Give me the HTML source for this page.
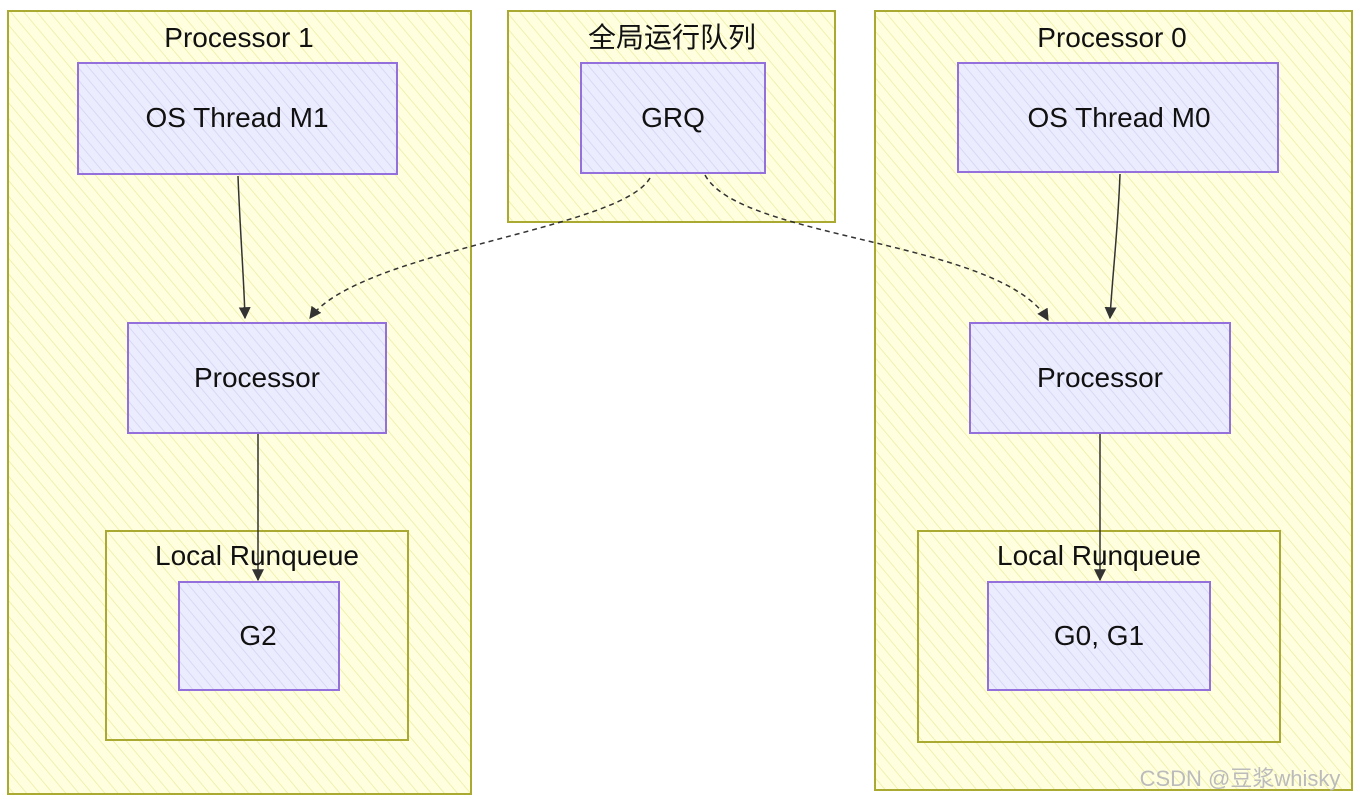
<!DOCTYPE html>
<html><head><meta charset="utf-8"><style>
html,body{margin:0;padding:0;background:#fff;}
svg{display:block;}
text{font-family:"Liberation Sans","Noto Sans CJK SC",sans-serif;font-size:28px;fill:#111;}
</style></head><body>
<svg width="1359" height="802" viewBox="0 0 1359 802" xmlns="http://www.w3.org/2000/svg">
<defs>
<pattern id="hy" width="10" height="10" patternUnits="userSpaceOnUse" patternTransform="rotate(-40)">
<rect width="10" height="10" fill="#ffffe0"/><line x1="0" y1="0" x2="0" y2="10" stroke="#f0f0b0" stroke-width="2"/></pattern>
<pattern id="hp" width="8" height="8" patternUnits="userSpaceOnUse" patternTransform="rotate(-40)">
<rect width="8" height="8" fill="#ececff"/><line x1="0" y1="0" x2="0" y2="8" stroke="#d8d8f4" stroke-width="2"/></pattern>
<marker id="a" viewBox="0 0 10 10" refX="9" refY="5" markerWidth="8" markerHeight="8" orient="auto"><path d="M0,0L10,5L0,10z" fill="#333"/></marker>
</defs>
<g stroke="#aaaa33" stroke-width="2" fill="url(#hy)">
<rect x="8" y="11" width="463" height="783"/>
<rect x="508" y="11" width="327" height="211"/>
<rect x="875" y="11" width="477" height="779"/>
<rect x="106" y="531" width="302" height="209"/>
<rect x="918" y="531" width="362" height="211"/>
</g>
<g stroke="#9370db" stroke-width="2" fill="url(#hp)">
<rect x="78" y="63" width="319" height="111"/>
<rect x="581" y="63" width="184" height="110"/>
<rect x="958" y="63" width="320" height="109"/>
<rect x="128" y="323" width="258" height="110"/>
<rect x="970" y="323" width="260" height="110"/>
<rect x="179" y="582" width="160" height="108"/>
<rect x="988" y="582" width="222" height="108"/>
</g>
<g fill="none" stroke="#333" stroke-width="1.5">
<path d="M238,176 C240,230 244,280 245,318" marker-end="url(#a)"/>
<path d="M258,434 C258,490 258,540 258,580" marker-end="url(#a)"/>
<path d="M1120,174 C1118,230 1112,280 1110,318" marker-end="url(#a)"/>
<path d="M1100,434 C1100,490 1100,540 1100,580" marker-end="url(#a)"/>
<path d="M650,178 C620,230 360,250 310,318" stroke-dasharray="5,4" marker-end="url(#a)"/>
<path d="M705,175 C740,240 1000,240 1048,320" stroke-dasharray="5,4" marker-end="url(#a)"/>
</g>
<g text-anchor="middle">
<text x="239" y="47">Processor 1</text>
<text x="672" y="47">全局运行队列</text>
<text x="1112" y="47">Processor 0</text>
<text x="237" y="127">OS Thread M1</text>
<text x="673" y="127">GRQ</text>
<text x="1119" y="127">OS Thread M0</text>
<text x="257" y="387">Processor</text>
<text x="1100" y="387">Processor</text>
<text x="257" y="565">Local Runqueue</text>
<text x="1099" y="565">Local Runqueue</text>
<text x="258" y="645">G2</text>
<text x="1099" y="645">G0, G1</text>
</g>
<text x="1240" y="786" text-anchor="middle" style="font-size:22px;fill:#bbb">CSDN @豆浆whisky</text>
</svg>
</body></html>
